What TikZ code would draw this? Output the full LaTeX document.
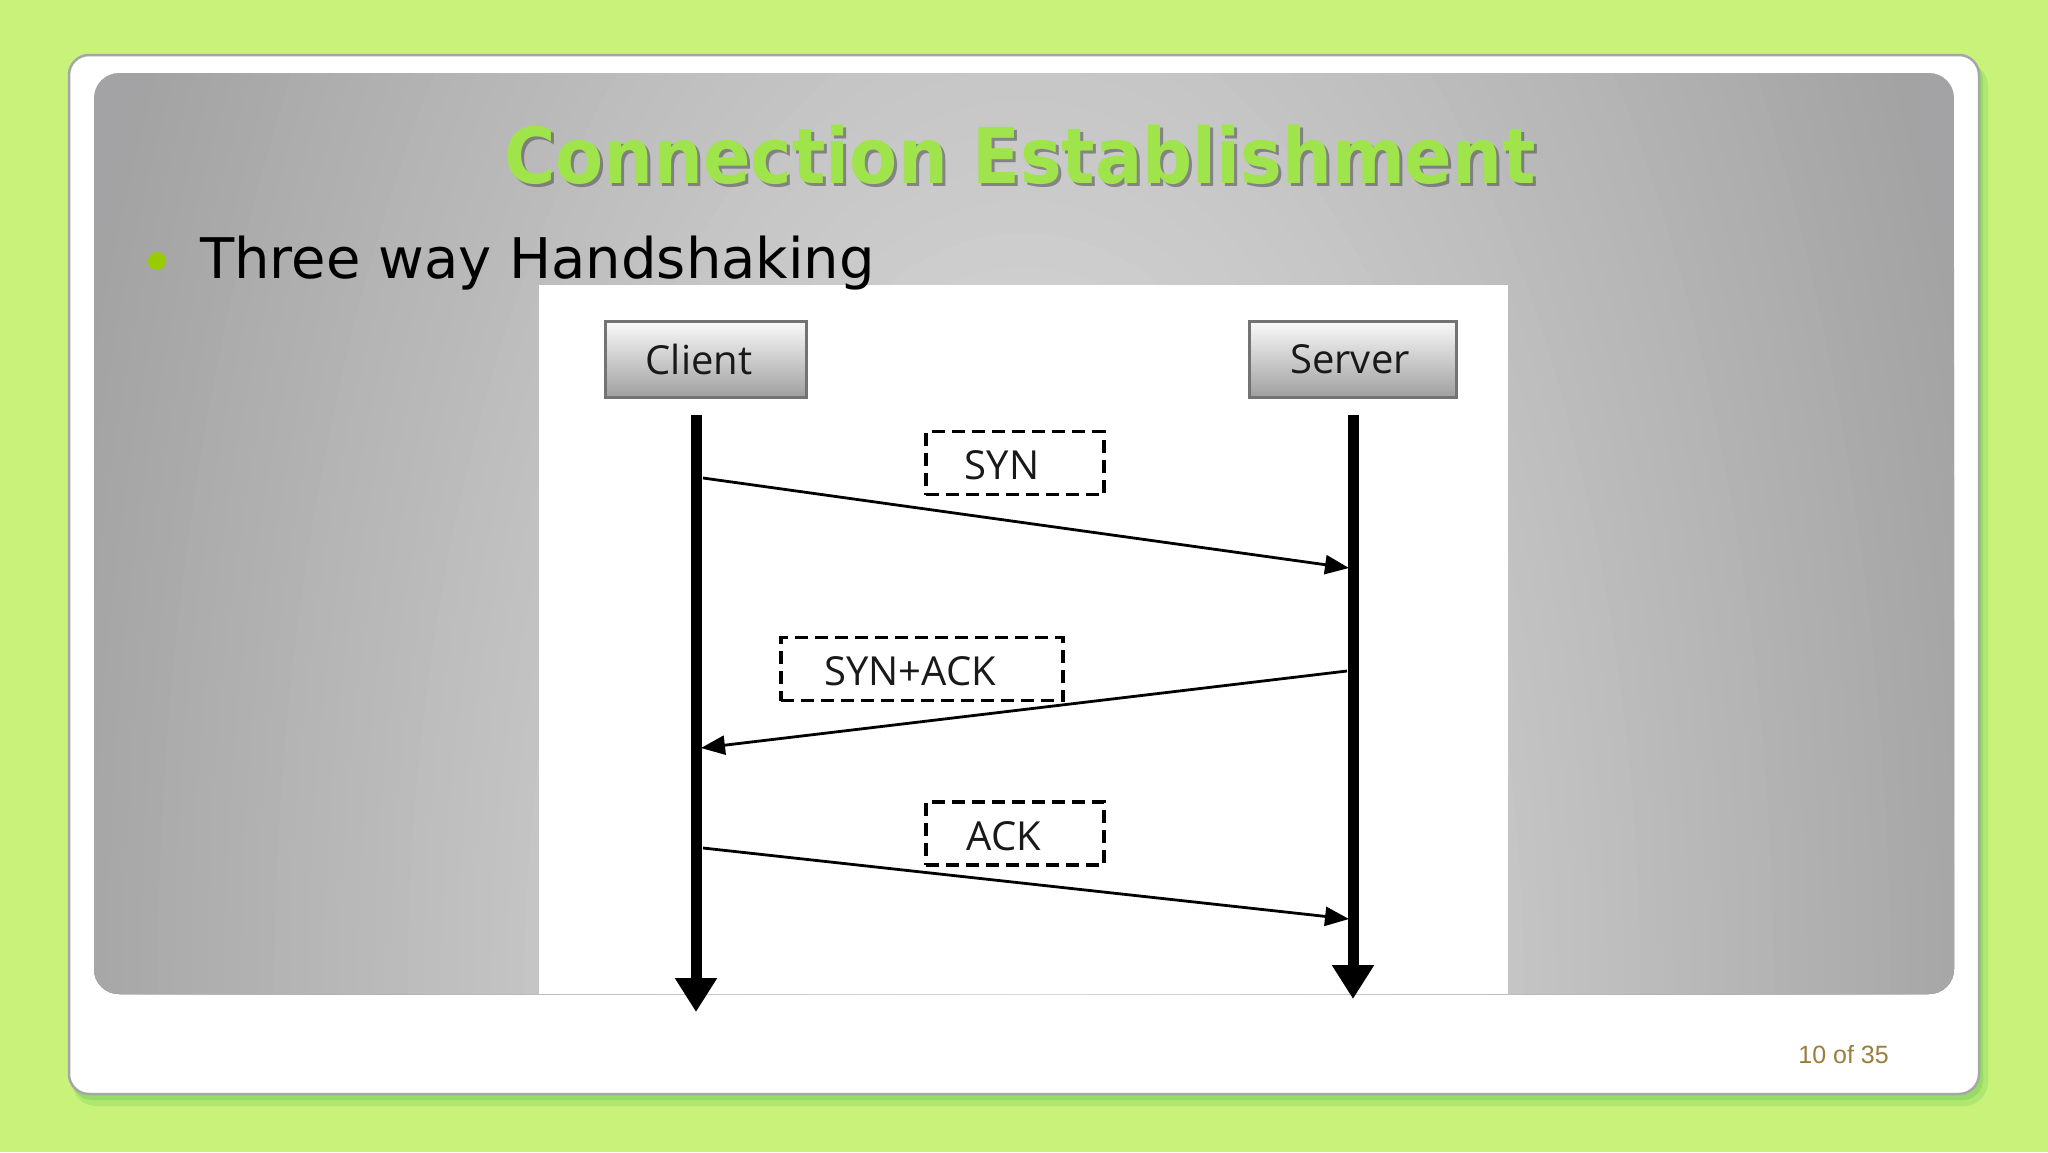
\documentclass[tikz,border=0pt]{standalone}
\usepackage{fontspec}
\setmainfont{DejaVu Sans}
\newfontfamily\diafont{Open Sans}
\newfontfamily\pgfont{Liberation Sans}
\usetikzlibrary{arrows.meta}
\definecolor{bggreen}{RGB}{200,242,122}
\definecolor{titlegreen}{RGB}{160,228,75}
\definecolor{bulletgreen}{RGB}{153,204,0}
\definecolor{pagebrown}{RGB}{155,125,60}
\definecolor{textdark}{RGB}{25,25,25}
\tikzset{
  actorbox/.style={draw=gray!90!black, line width=3pt, top color=white!96!gray, bottom color=gray!75,
    minimum width=#1, minimum height=76pt, inner sep=0pt},
  actorlabel/.style={font=\diafont\fontsize{40}{48}\selectfont, text=textdark},
  msgbox/.style={draw=black, line width=3.2pt, dash pattern=on 13pt off 7pt,
    minimum width=#1, minimum height=63pt, inner sep=0pt},
  msglabel/.style={font=\diafont\fontsize{40}{48}\selectfont, text=textdark},
  lifeline/.style={line width=11pt, -{Triangle[length=34pt,width=40pt]}},
  msgarrow/.style={line width=2.8pt, -{Triangle[length=24pt,width=19pt]}},
  titlefont/.style={font=\bfseries\fontsize{70}{84}\selectfont, yscale=1.1, transform shape},
}
\begin{document}
\begin{tikzpicture}[x=1pt,y=-1pt]
\useasboundingbox (0,0) rectangle (2048,1152);
\fill[bggreen] (0,0) rectangle (2048,1152);
% card shadow and card
\fill[green!45!gray, opacity=0.18, rounded corners=24] (72,62) rectangle (1988,1106);
\fill[green!45!gray, opacity=0.25, rounded corners=20] (72,60) rectangle (1983,1100);
\draw[fill=white, draw=gray!70, line width=2.5pt, rounded corners=20] (69,55) rectangle (1979,1094);
% gray panel with radial-like gradient
\begin{scope}
\clip[rounded corners=25] (94,73) rectangle (1954,994);
\definecolor{pg}{RGB}{163,163,165}
\fill[pg] (94,73) rectangle (1954,994);
\foreach \i in {0,...,59} {
  \pgfmathsetmacro{\r}{1000*(1-\i/60)}
  \pgfmathtruncatemacro{\g}{163+67*\i/59}
  \definecolor{pg}{RGB}{\g,\g,\g}
  \fill[pg] (1024,1000) ellipse [x radius=\r, y radius=2*\r];
}
\end{scope}
% white diagram area
\fill[white] (539,285) rectangle (1508,994);
% title with shadow
\node[anchor=base, text=black!70, opacity=0.55, titlefont] at (1023,186) {Connection Establishment};
\node[anchor=base, text=titlegreen, titlefont] (title) at (1020,183) {Connection Establishment};
% bullet
\fill[bulletgreen] (157,261) circle (9);
\node[anchor=base west, inner sep=0pt, font=\fontsize{56}{66}\selectfont] (bullet) at (200,278) {Three way Handshaking};
% actors
\node[actorbox=201pt] (client) at (705.5,359) {};
\node[actorlabel] at (699,359) {Client};
\node[actorbox=207pt] (server) at (1352.5,359) {};
\node[actorlabel] at (1350,359) {Server};
% lifelines
\coordinate (ctop) at (696,415);
\coordinate (cbot) at (696,1012);
\coordinate (stop) at (1353,415);
\coordinate (sbot) at (1353,999);
\draw[lifeline] (ctop) -- (cbot);
\draw[lifeline] (stop) -- (sbot);
% messages
\coordinate (m1a) at (703,478);
\coordinate (m1b) at (1349,568);
\coordinate (m2a) at (1347,671);
\coordinate (m2b) at (701,748);
\coordinate (m3a) at (703,848);
\coordinate (m3b) at (1349,919);
\draw[msgarrow] (m1a) -- (m1b);
\draw[msgarrow] (m2a) -- (m2b);
\draw[msgarrow] (m3a) -- (m3b);
% labels
\node[msgbox=178pt] (syn) at (1015,463) {};
\node[msglabel] at (1002,465) {SYN};
\node[msgbox=282pt] (synack) at (922,669) {};
\node[msglabel] at (910,671) {SYN+ACK};
\node[msgbox=178pt] (ack) at (1015,833.5) {};
\node[msglabel] at (1004,836) {ACK};
% page number
\node[anchor=base east, inner sep=0pt, text=pagebrown, font=\pgfont\fontsize{25}{30}\selectfont] (page) at (1889,1063) {10 of 35};
\end{tikzpicture}
\end{document}
